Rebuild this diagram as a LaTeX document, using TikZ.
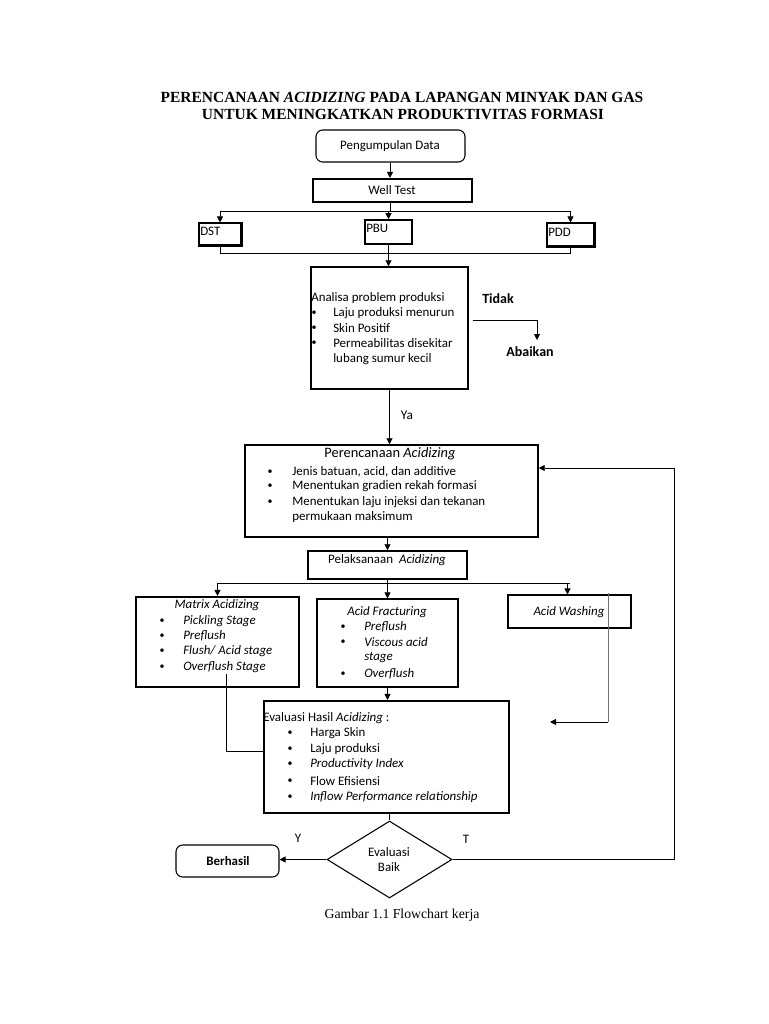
\documentclass[tikz,border=0pt]{standalone}
\usepackage{fontspec}
\setmainfont{Carlito}
\newfontfamily\ttlfont{Liberation Serif}
\usetikzlibrary{arrows.meta,fit,shapes.geometric}
\begin{document}
\begin{tikzpicture}[x=0.75pt,y=-0.75pt,
  txt/.style={inner sep=0pt,font=\fontsize{9.7}{11}\selectfont},
  itx/.style={txt,font=\fontsize{9.7}{11}\selectfont\itshape},
  lt/.style={txt,anchor=west},
  ilt/.style={itx,anchor=west},
  bul/.style={inner sep=0pt,font=\fontsize{7.5}{9}\selectfont},
  bx/.style={draw,inner sep=0pt,line width=0.8pt},
  thk/.style={bx,line width=1.6pt},
  rbx/.style={bx,rounded corners=5pt},
  ln/.style={line width=0.7pt},
  arr/.style={ln,-{Triangle[length=4.5pt,width=4.5pt]}},
]
\fill[white] (0,0) rectangle (768,1024);
\useasboundingbox (0,0) rectangle (768,1024);

% title
\node[inner sep=0pt,font=\ttlfont\bfseries\fontsize{11.6}{13}\selectfont] (t1) at (402,97) {PERENCANAAN \textit{ACIDIZING} PADA LAPANGAN MINYAK DAN GAS};
\node[inner sep=0pt,font=\ttlfont\bfseries\fontsize{11.6}{13}\selectfont] (t2) at (403,114) {UNTUK MENINGKATKAN PRODUKTIVITAS FORMASI};

% boxes
\node[rbx,fit={(316,130)(465,162)}] (pd) {};
\node[thk,fit={(313,179)(472,202)}] (wt) {};
\node[bx,fit={(199,223)(241,245)}] (dst) {};
\node[bx,line width=1.2pt,fit={(365,220)(412,244)}] (pbu) {};
\node[bx,fit={(547,223)(594,246)}] (pdd) {};
\draw[line width=1.5pt] (dst.north east) -- (dst.south east) -- (dst.south west);
\draw[line width=1.5pt] (pdd.north east) -- (pdd.south east) -- (pdd.south west);
\node[bx,line width=1.1pt,fit={(311,267)(468,389)}] (an) {};
\node[bx,line width=1.1pt,fit={(245,445)(538,537)}] (per) {};
\node[bx,line width=1.1pt,fit={(308,551)(467,579)}] (pel) {};
\node[thk,fit={(136,597)(299,687)}] (mat) {};
\node[bx,fit={(317,599)(458,687)}] (af) {};
\node[bx,fit={(508,595)(631,628)}] (aw) {};
\node[thk,fit={(264,701)(509,813)}] (ev) {};
\node[rbx,fit={(176,845)(279,877)}] (bh) {};
\node[draw,diamond,line width=0.8pt,inner sep=0pt,minimum width=93.75pt,minimum height=57.75pt] (dm) at (389.5,859.5) {};

% texts
\node[txt] (tpd) at (390,146) {Pengumpulan Data};
\node[txt] (twt) at (392,190) {Well Test};
\node[lt] (tdst) at (200,231) {DST};
\node[lt] (tpbu) at (366,228) {PBU};
\node[lt] (tpdd) at (548,232) {PDD};

\node[lt] (an0) at (311,298) {Analisa problem produksi};
\node[bul] (ab1) at (314,313) {\textbullet};
\node[bul] (ab2) at (314,328) {\textbullet};
\node[bul] (ab3) at (314,343) {\textbullet};
\node[lt] (an1) at (333,313) {Laju produksi menurun};
\node[lt] (an2) at (333,328) {Skin Positif};
\node[lt] (an3) at (333,343) {Permeabilitas disekitar};
\node[lt] (an4) at (333,359) {lubang sumur kecil};
\node[txt,font=\fontsize{10.5}{12}\selectfont\bfseries] (tidak) at (498,299) {Tidak};
\node[txt,font=\fontsize{10.5}{12}\selectfont\bfseries] (abaikan) at (530,352) {Abaikan};
\node[txt,font=\fontsize{10}{12}\selectfont] (ya) at (407,415) {Ya};

\node[txt,font=\fontsize{10.8}{12}\selectfont] (pe0) at (390,454) {Perencanaan \textit{Acidizing}};
\node[bul] (pb1) at (270,472) {\textbullet};
\node[bul] (pb2) at (270,486) {\textbullet};
\node[bul] (pb3) at (270,502) {\textbullet};
\node[lt] (pe1) at (292,472) {Jenis batuan, acid, dan additive};
\node[lt] (pe2) at (292,486) {Menentukan gradien rekah formasi};
\node[lt] (pe3) at (292,502) {Menentukan laju injeksi dan tekanan};
\node[lt] (pe4) at (292,517) {permukaan maksimum};
\node[txt] (tpel) at (387,560) {Pelaksanaan~ \textit{Acidizing}};

\node[itx] (ma0) at (217,605) {Matrix Acidizing};
\node[bul] (mb1) at (162,621) {\textbullet};
\node[bul] (mb2) at (162,636) {\textbullet};
\node[bul] (mb3) at (162,651) {\textbullet};
\node[bul] (mb4) at (162,667) {\textbullet};
\node[ilt] (ma1) at (183,621) {Pickling Stage};
\node[ilt] (ma2) at (183,636) {Preflush};
\node[ilt] (ma3) at (183,651) {Flush/ Acid stage};
\node[ilt] (ma4) at (183,667) {Overflush Stage};

\node[itx] (af0) at (387,612) {Acid Fracturing};
\node[bul] (fb1) at (343,627) {\textbullet};
\node[bul] (fb2) at (343,642) {\textbullet};
\node[bul] (fb3) at (343,674) {\textbullet};
\node[ilt] (af1) at (364,627) {Preflush};
\node[ilt] (af2) at (364,642) {Viscous acid};
\node[ilt] (af3) at (364,658) {stage};
\node[ilt] (af4) at (364,674) {Overflush};

\node[itx] (taw) at (569,612) {Acid Washing};

\node[lt] (ev0) at (263,718) {Evaluasi Hasil \textit{Acidizing} :};
\node[bul] (eb1) at (290,733) {\textbullet};
\node[bul] (eb2) at (290,749) {\textbullet};
\node[bul] (eb3) at (290,764) {\textbullet};
\node[bul] (eb4) at (290,781) {\textbullet};
\node[bul] (eb5) at (290,797) {\textbullet};
\node[lt] (ev1) at (310,733) {Harga Skin};
\node[lt] (ev2) at (310,749) {Laju produksi};
\node[ilt] (ev3) at (310,764) {Productivity Index};
\node[lt] (ev4) at (310,781) {Flow Efisiensi};
\node[ilt] (ev5) at (310,797) {Inflow Performance relationship};

\node[txt] (dm1) at (389,852) {Evaluasi};
\node[txt] (dm2) at (389,867) {Baik};
\node[txt] (ly) at (298,838) {Y};
\node[txt] (lt) at (466,839) {T};
\node[txt,font=\fontsize{9.7}{11}\selectfont\bfseries] (tbh) at (228,861) {Berhasil};
\node[inner sep=0pt,font=\ttlfont\fontsize{10.3}{12}\selectfont] (cap) at (402,915) {Gambar 1.1 Flowchart kerja};

% connectors
\draw[arr] (pd.south -| 390,0) -- (wt.north -| 390,0);
\coordinate (wtj) at (390,211);
\draw[ln] (wt.south -| wtj) -- (wtj);
\draw[ln] (dst.north |- wtj) -- (pdd.north |- wtj);
\draw[arr] (dst.north |- wtj) -- (dst.north);
\draw[arr] (pbu.north |- wtj) -- (pbu.north);
\draw[arr] (pdd.north |- wtj) -- (pdd.north);
\coordinate (bj) at (389,253);
\draw[ln] (dst.south) -- (dst.south |- bj) -- (pdd.south |- bj) -- (pdd.south);
\draw[arr] (pbu.south) -- (pbu.south |- an.north);

\coordinate (ank) at (537,320);
\coordinate (abk) at (537,340);
\draw[arr,shorten <=3pt] (an.east |- ank) -- (ank) -- (abk);
\draw[arr] (an.south) -- (an.south |- per.north);
\draw[arr] (pel.north |- per.south) -- (pel.north);

\coordinate (pj) at (388,583);
\draw[ln] (pel.south) -- (pel.south |- pj);
\draw[ln] (mat.north |- pj) -- (aw.north |- pj);
\draw[arr] (mat.north |- pj) -- (mat.north);
\draw[arr] (af.north |- pj) -- (af.north);
\draw[arr] ([xshift=-1.5pt]aw.north |- pj) -- ([xshift=-1.5pt]aw.north);

\coordinate (ms) at (226,674);
\coordinate (mj) at (226,751);
\draw[ln] (ms) -- (mj) -- (ev.west |- mj);
\draw[arr] (af.south) -- (af.south |- ev.north);

\coordinate (aw1) at (608,593);
\coordinate (aw2) at (608,722);
\coordinate (aw3) at (550,722);
\draw[ln,black!55] (aw1) -- (aw2);
\draw[arr] (aw2) -- (aw3);

\draw[ln] (ev.south -| dm.north) -- (dm.north);
\draw[arr] (dm.west) -- (bh.east |- dm.west);
\coordinate (rr) at (674,861);
\coordinate (perin) at (674,468);
\draw[arr] (dm.east) -- (dm.east -| rr) -- (perin) -- (per.east |- perin);
\end{tikzpicture}
\end{document}
